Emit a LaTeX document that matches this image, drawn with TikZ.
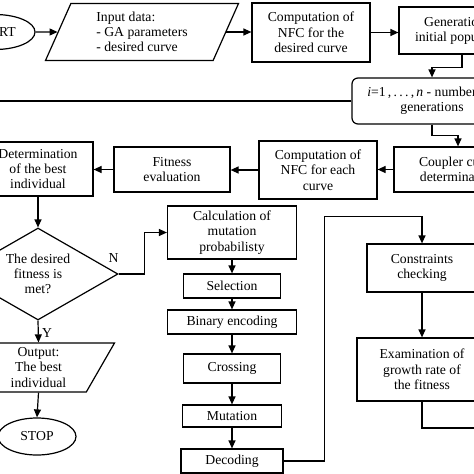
\documentclass[tikz,border=0pt]{standalone}
\usepackage{fontspec}
\setmainfont{Liberation Serif}
\usepackage{tikz}
\usetikzlibrary{shapes.geometric,arrows.meta}

\tikzset{
	box/.style={draw,rectangle,align=center,inner sep=1pt},
	io/.style 2 args={draw,trapezium,trapezium left angle=#1,trapezium right angle=#2,
		trapezium stretches body,align=center,inner sep=1pt},
	term/.style={draw,ellipse,inner sep=0pt},
}

\begin{document}
\begin{tikzpicture}[x=1pt,y=-1pt,>={Triangle[length=8pt,width=7pt]},line width=1.2pt,
	every node/.style={font=\fontsize{13.7}{15.3}\selectfont}]
\useasboundingbox (0,0) rectangle (474,474);
\clip (0,0) rectangle (474,474);

\node[term,minimum width=80pt,minimum height=35pt] (start) at (-5,32) {START};
\node[io={59}{121},minimum width=193pt,minimum height=57pt,align=left] (input) at (142,32) {Input data:\\- GA parameters\\- desired curve};
\node[box,minimum width=118pt,minimum height=59pt] (nfcdes) at (311,32.5) {Computation of\\NFC for the\\desired curve};
\node[box,minimum width=126pt,minimum height=47pt] (genpop) at (462,30.5) {Generation of\\initial population};
\node[box,rounded corners=6pt,minimum width=160pt,minimum height=46pt] (gener) at (432,101) {\textit{i}=1\,,\,.\,.\,.\,,\,\textit{n} - numbers of\\generations};

\node[box,minimum width=128pt,minimum height=45pt] (coupler) at (458,169.5) {Coupler curve\\determination};
\node[box,minimum width=118pt,minimum height=58pt] (nfceach) at (318,170) {Computation of\\NFC for each\\curve};
\node[box,minimum width=116pt,minimum height=45pt] (fitness) at (172,169.5) {Fitness\\evaluation};
\node[box,minimum width=110pt,minimum height=54pt] (best) at (38,169) {Determination\\of the best\\individual};

\node[draw,diamond,aspect=1.74,inner sep=0pt,minimum width=160pt,minimum height=92pt,align=center] (desired) at (38,274) {The desired\\fitness is\\met?};
\node[io={56}{124},minimum width=152pt,minimum height=49pt] (output) at (38.5,367.5) {Output:\\The best\\individual};
\node[term,minimum width=78pt,minimum height=37pt] (stop) at (37,436.5) {STOP};

\node[box,minimum width=129pt,minimum height=53pt] (calc) at (232,232.5) {Calculation of\\mutation\\probabilisty};
\node[box,minimum width=97pt,minimum height=24pt] (sel) at (232,286) {Selection};
\node[box,minimum width=129pt,minimum height=24pt] (binenc) at (232,322) {Binary encoding};
\node[box,minimum width=97pt,minimum height=29pt] (cross) at (232,368.5) {Crossing};
\node[box,minimum width=99pt,minimum height=22pt] (mut) at (232,416) {Mutation};
\node[box,minimum width=102pt,minimum height=24pt] (dec) at (232,461) {Decoding};

\node[box,minimum width=110pt,minimum height=48pt] (constr) at (422,268) {Constraints\\checking};
\node[box,minimum width=130pt,minimum height=63pt] (exam) at (422,369.5) {Examination of\\growth rate of\\the fitness};

\coordinate (loopL) at (-10,102);
\coordinate (examR) at (490,428);

\draw[->] (start.east) -- (input.west);
\draw[->] (input.east) -- (input.east -| nfcdes.west);
\draw[->] (nfcdes.east) -- (nfcdes.east -| genpop.west);
\draw[->] (genpop.south) -- ++(0,13) -| (gener.north);
\draw (gener.west) -- (gener.west -| loopL);
\draw[->] (gener.south) -- ++(0,11) -| (coupler.north);
\draw[->] (coupler.west) -- (coupler.west -| nfceach.east);
\draw[->] (nfceach.west) -- (nfceach.west -| fitness.east);
\draw[->] (fitness.west) -- (fitness.west -| best.east);
\draw[->] (best.south) -- (desired.north);
\draw[->] (desired.east) -- node[pos=0,xshift=-5pt,yshift=16pt]{N} ++(26,0) |- (calc.west);
\draw[->] (desired.south) -- node[right,pos=0.55]{Y} (output.north);
\draw[->] (output.south) -- (stop.north);

\draw[->] (calc.south) -- (sel.north);
\draw[->] (sel.south) -- (binenc.north);
\draw[->] (binenc.south) -- (cross.north);
\draw[->] (cross.south) -- (mut.north);
\draw[->] (mut.south) -- (dec.north);
\draw[->] (dec.east) -- ++(41,0) |- ([yshift=27pt]constr.north) -- (constr.north);
\draw[->] (constr.south) -- (exam.north);
\draw (exam.south) -- (exam.south |- examR) -- (examR);
\end{tikzpicture}
\end{document}
